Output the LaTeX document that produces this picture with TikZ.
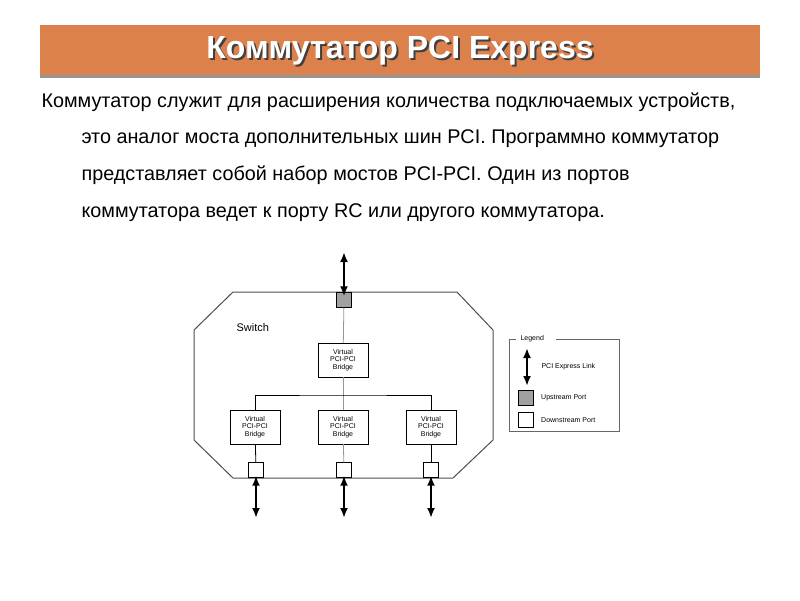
\documentclass[tikz,border=0pt]{standalone}
\usepackage{fontspec}
\setmainfont{Liberation Sans}
\usetikzlibrary{positioning,arrows.meta}
\definecolor{titlebar}{RGB}{220,128,76}
\definecolor{portgray}{RGB}{160,160,160}
\definecolor{linkgray}{RGB}{150,150,150}
\tikzset{
  bridge/.style={draw,fill=white,minimum width=50pt,minimum height=34pt,inner sep=0pt,align=center,font=\fontsize{7}{7.5}\selectfont},
  port/.style={draw,minimum size=15pt,inner sep=0pt},
  link/.style={line width=2pt,{Latex[length=10pt,width=8pt]}-{Latex[length=10pt,width=8pt]}},
  body/.style={anchor=base west,font=\fontsize{19.8}{20}\selectfont}
}
\begin{document}
\begin{tikzpicture}[x=1pt,y=-1pt]
\useasboundingbox (0,0) rectangle (800,600);
%title bar
\fill[linkgray] (40,25) rectangle (760,78);
\fill[titlebar] (40,25) rectangle (760,75);
\node[font=\bfseries\fontsize{32}{32}\selectfont,text=black!75] (shadow) at (402,53) {Коммутатор PCI Express};
\node[font=\bfseries\fontsize{32}{32}\selectfont,text=white] (title) at (400,51) {Коммутатор PCI Express};
%body text
\node[body] (l1) at (38,107) {Коммутатор служит для расширения количества подключаемых устройств,};
\node[body] (l2) at (78,143) {это аналог моста дополнительных шин PCI. Программно коммутатор};
\node[body] (l3) at (78,180) {представляет собой набор мостов PCI-PCI. Один из портов};
\node[body] (l4) at (78,217) {коммутатора ведет к порту RC или другого коммутатора.};
%switch outline
\draw[black!70,line width=1pt] (233,292) -- (457,292) -- (493,330) -- (493,440) -- (453,478)
  -- (233,478) -- (194,440) -- (194,330) -- cycle;
\node[anchor=west,font=\fontsize{11}{11}\selectfont] (sw) at (233,328) {Switch};
%ports and bridges
\node[port,fill=portgray] (up) at (344,300) {};
\node[bridge] (top) at (343,360) {Virtual\\PCI-PCI\\Bridge};
\node[bridge] (b1) at (255,427) {Virtual\\PCI-PCI\\Bridge};
\node[bridge] (b2) at (343,427) {Virtual\\PCI-PCI\\Bridge};
\node[bridge] (b3) at (431,427) {Virtual\\PCI-PCI\\Bridge};
\node[port,fill=white] (d1) at (256,470) {};
\node[port,fill=white] (d2) at (344,470) {};
\node[port,fill=white] (d3) at (431,470) {};
%internal links
\draw[linkgray,thick] (up) -- (top);
\draw[linkgray,thick] (top) -- (b2);
\draw[linkgray,thick] (b2) -- (d2);
\draw[thick] (b1.north) |- (343,395) -| (b3.north);
\draw[thick] (b1) -- (d1);
\draw[thick] (b3) -- (d3);
%external links
\coordinate (uptop) at (344,252);
\coordinate (e1) at (256,518);
\coordinate (e2) at (344,518);
\coordinate (e3) at (431,518);
\draw[link] (uptop) -- ([yshift=-4pt]up.north);
\draw[link] ([yshift=2pt]d1.south) -- (e1);
\draw[link] ([yshift=2pt]d2.south) -- (e2);
\draw[link] ([yshift=2pt]d3.south) -- (e3);
%legend
\draw[black!60] (516,339) -- (509,339) -- (509,431) -- (619,431) -- (619,339) -- (556,339);
\node[font=\fontsize{7}{7}\selectfont,anchor=west] (lg) at (517,339) {Legend};
\coordinate (la) at (527,348);
\coordinate (lb) at (527,386);
\draw[link] (la) -- (lb);
\node[port,fill=portgray] (lup) at (526,398) {};
\node[port,fill=white] (ldown) at (526,420) {};
\node[font=\fontsize{7}{7}\selectfont,anchor=west] (tl) at (538,367) {PCI Express Link};
\node[font=\fontsize{7}{7}\selectfont,anchor=west,right=4pt of lup] (tu) {Upstream Port};
\node[font=\fontsize{7}{7}\selectfont,anchor=west,right=4pt of ldown] (td) {Downstream Port};
\end{tikzpicture}
\end{document}
